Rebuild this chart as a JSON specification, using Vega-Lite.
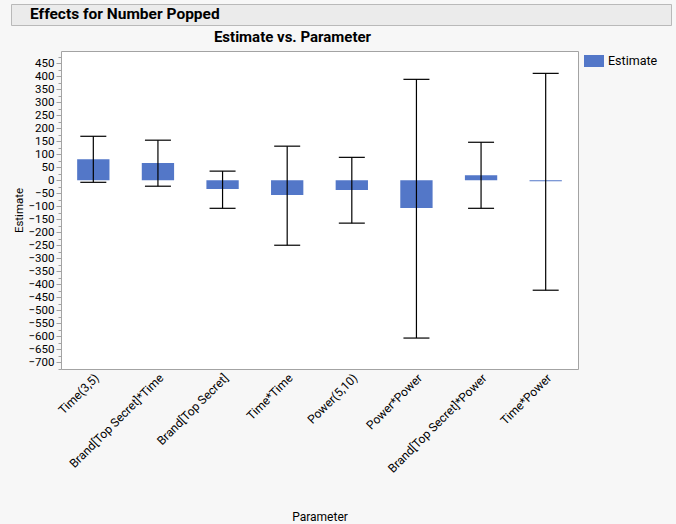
{
  "$schema": "https://vega.github.io/schema/vega-lite/v6.json",
  "background": "#f7f7f7",
  "padding": {"left": 10, "top": 3, "right": 6, "bottom": 4},
  "spacing": 3,
  "resolve": {"legend": {"color": "independent"}},
  "config": {
    "font": "Roboto",
    "view": {"stroke": "#a3a3a3", "fill": "white"}
  },
  "vconcat": [
    {
      "width": 660,
      "height": 21,
      "view": {"fill": "#ebebeb", "stroke": "#b9b9b9"},
      "title": {
        "text": "Effects for Number Popped",
        "anchor": "start",
        "frame": "group",
        "orient": "top",
        "offset": -18,
        "dx": 19,
        "fontSize": 15.5,
        "fontWeight": "bold",
        "color": "#000000"
      },
      "data": {"values": [{"section": "Effects for Number Popped"}]},
      "mark": {"type": "text", "opacity": 0},
      "encoding": {"text": {"value": ""}}
    },
    {
      "spacing": 0,
      "resolve": {"legend": {"color": "independent"}},
      "hconcat": [
        {
          "width": 1,
          "height": 1,
          "view": {"fill": null, "stroke": null},
          "data": {"values": [{"section": "spacer"}]},
          "mark": {"type": "text", "opacity": 0},
          "encoding": {"text": {"value": ""}}
        },
        {
          "width": 517,
          "height": 318,
          "title": {
            "text": "Estimate vs. Parameter",
            "anchor": "middle",
            "frame": "group",
            "dx": -27,
            "offset": 6,
            "fontSize": 15,
            "fontWeight": "bold",
            "color": "#000000"
          },
          "data": {
            "values": [
              {"param": "Time(3,5)", "est": 81, "lo": -8, "hi": 169},
              {"param": "Brand[Top Secret]*Time", "est": 66, "lo": -23, "hi": 154},
              {"param": "Brand[Top Secret]", "est": -34, "lo": -108, "hi": 35},
              {"param": "Time*Time", "est": -57, "lo": -250, "hi": 131},
              {"param": "Power(5,10)", "est": -38, "lo": -165, "hi": 88},
              {"param": "Power*Power", "est": -107, "lo": -607, "hi": 388},
              {"param": "Brand[Top Secret]*Power", "est": 19, "lo": -108, "hi": 146},
              {"param": "Time*Power", "est": -4, "lo": -423, "hi": 411}
            ]
          },
          "encoding": {
            "x": {
              "field": "param",
              "type": "nominal",
              "sort": null,
              "scale": {"paddingInner": 0.5, "paddingOuter": 0.25},
              "axis": {
                "title": "Parameter",
                "titleFontSize": 12,
                "titleFontWeight": "normal",
                "titleColor": "#000000",
                "titlePadding": 37,
                "labelAngle": -45,
                "labelFontSize": 12,
                "labelColor": "#000000",
                "labelPadding": 3,
                "labelLimit": 300,
                "ticks": false,
                "domain": false
              }
            }
          },
          "layer": [
            {
              "mark": {"type": "bar", "color": "#5377c8"},
              "encoding": {
                "y": {
                  "field": "est",
                  "type": "quantitative",
                  "scale": {"domain": [-726, 497], "nice": false, "zero": false},
                  "axis": {
                    "orient": "left",
                    "values": [-700, -650, -600, -550, -500, -450, -400, -350, -300, -250, -200, -150, -100, -50, 0, 50, 100, 150, 200, 250, 300, 350, 400, 450],
                    "title": "Estimate",
                    "titleFontSize": 11.5,
                    "titleFontWeight": "normal",
                    "titleColor": "#000000",
                    "titlePadding": 4,
                    "labelFontSize": 11.5,
                    "labelColor": "#000000",
                    "labelPadding": 2,
                    "tickSize": 5,
                    "tickColor": "#a3a3a3",
                    "domain": false,
                    "grid": false
                  }
                },
                "color": {
                  "datum": "Estimate",
                  "scale": {"range": ["#5377c8"]},
                  "legend": {
                    "title": null,
                    "orient": "right",
                    "offset": 6,
                    "padding": 0,
                    "symbolType": "M-1,-0.6H1V0.6H-1Z",
                    "symbolSize": 400,
                    "symbolStrokeWidth": 0,
                    "symbolOpacity": 1,
                    "labelFontSize": 12.5,
                    "labelColor": "#000000",
                    "labelOffset": 4
                  }
                }
              }
            },
            {
              "mark": {"type": "rule", "color": "#000000", "strokeWidth": 2},
              "encoding": {
                "y": {"datum": 0, "type": "quantitative", "axis": null}
              }
            },
            {
              "mark": {"type": "rule", "color": "#000000", "strokeWidth": 1.2},
              "encoding": {
                "y": {"field": "lo", "type": "quantitative", "axis": null},
                "y2": {"field": "hi"}
              }
            },
            {
              "mark": {"type": "tick", "color": "#000000", "size": 26, "thickness": 1.2, "opacity": 1},
              "encoding": {
                "y": {
                  "field": "lo",
                  "type": "quantitative",
                  "axis": {
                    "orient": "left",
                    "values": [-725, -675, -625, -575, -525, -475, -425, -375, -325, -275, -225, -175, -125, -75, -25, 25, 75, 125, 175, 225, 275, 325, 375, 425, 475],
                    "labels": false,
                    "title": null,
                    "tickSize": 3,
                    "tickColor": "#a3a3a3",
                    "domain": false,
                    "grid": false
                  }
                }
              }
            },
            {
              "mark": {"type": "tick", "color": "#000000", "size": 26, "thickness": 1.2, "opacity": 1},
              "encoding": {
                "y": {"field": "hi", "type": "quantitative", "axis": null}
              }
            }
          ],
          "resolve": {"axis": {"y": "independent"}}
        }
      ]
    }
  ]
}
